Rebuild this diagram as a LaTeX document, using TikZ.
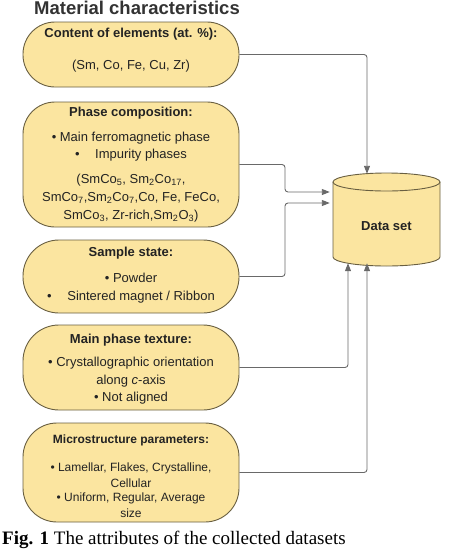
\documentclass[tikz,border=0pt]{standalone}
\usepackage{fontspec}
\setmainfont{Liberation Sans}
\newfontfamily\capfont{Liberation Serif}
\usetikzlibrary{arrows.meta}
\definecolor{boxfill}{RGB}{251,229,160}
\definecolor{boxline}{RGB}{105,95,65}
\definecolor{conn}{RGB}{105,105,105}
\definecolor{txt}{RGB}{35,35,35}
\begin{document}
\begin{tikzpicture}[x=1pt,y=-1pt,
  box/.style={draw=boxline, fill=boxfill, line width=0.9pt, minimum width=216pt, inner sep=0pt},
  hd/.style={font=\bfseries\fontsize{13}{15}\selectfont, text=txt, inner sep=0pt},
  tx/.style={font=\fontsize{13}{15}\selectfont, text=txt, inner sep=0pt},
  hds/.style={font=\bfseries\fontsize{12}{14}\selectfont, text=txt, inner sep=0pt},
  txs/.style={font=\fontsize{12}{14}\selectfont, text=txt, inner sep=0pt},
  arr/.style={draw=conn, line width=0.9pt, rounded corners=3pt, -{Triangle[length=8pt,width=6pt]}}]
\useasboundingbox (0,0) rectangle (452,550);

\node[font=\bfseries\fontsize{18.5}{20}\selectfont, text=black!80, anchor=base, inner sep=0pt] (ttl) at (137,14) {Material characteristics};

% boxes
\node[box, minimum height=65pt, rounded corners=32pt] (b1) at (131,54.5) {};
\node[hd] (b1t) at (131,34) {Content of elements (at. \%):};
\node[tx] (b1a) at (131,66) {(Sm, Co, Fe, Cu, Zr)};

\node[box, minimum height=125pt, rounded corners=32pt] (b2) at (131,164.5) {};
\node[hd] (b2t) at (131,113) {Phase composition:};
\node[tx] (b2a) at (131,138) {\textbullet{} Main ferromagnetic phase};
\node[tx] (b2b) at (131,155) {\textbullet{}\hspace{1.2em}Impurity phases};
\node[tx] (b2c) at (131,180) {(SmCo\textsubscript{5}, Sm\textsubscript{2}Co\textsubscript{17},};
\node[tx] (b2d) at (131,198) {SmCo\textsubscript{7},Sm\textsubscript{2}Co\textsubscript{7},Co, Fe, FeCo,};
\node[tx] (b2e) at (131,216) {SmCo\textsubscript{3}, Zr-rich,Sm\textsubscript{2}O\textsubscript{3})};

\node[box, minimum height=73pt, rounded corners=36pt] (b3) at (131,276.5) {};
\node[hd] (b3t) at (131,253) {Sample state:};
\node[tx] (b3a) at (131,278) {\textbullet{} Powder};
\node[tx] (b3b) at (131,297) {\textbullet{}\hspace{1.2em}Sintered magnet / Ribbon};

\node[box, minimum height=85pt, rounded corners=36pt] (b4) at (131,367.5) {};
\node[hd] (b4t) at (131,340) {Main phase texture:};
\node[tx] (b4a) at (131,363) {\textbullet{} Crystallographic orientation};
\node[tx] (b4b) at (131,381) {along \textit{c}-axis};
\node[tx] (b4c) at (131,398) {\textbullet{} Not aligned};

\node[box, minimum height=99pt, rounded corners=34pt] (b5) at (131,472.5) {};
\node[hds] (b5t) at (131,440) {Microstructure parameters:};
\node[txs] (b5a) at (131,468) {\textbullet{} Lamellar, Flakes, Crystalline,};
\node[txs] (b5b) at (131,483) {Cellular};
\node[txs] (b5c) at (131,498) {\textbullet{} Uniform, Regular, Average};
\node[txs] (b5d) at (131,513) {size};

% data set cylinder
\node[minimum width=107pt, minimum height=93pt, inner sep=0pt] (ds) at (386.5,219.5) {};
\fill[boxfill] (333,182) -- (333,257) arc[start angle=180, end angle=360, x radius=53.5pt, y radius=9pt] -- (440,182) -- cycle;
\fill[boxfill] (386.5,182) ellipse[x radius=53.5pt, y radius=9pt];
\draw[boxline, line width=0.9pt] (333,182) -- (333,257) arc[start angle=180, end angle=360, x radius=53.5pt, y radius=9pt] -- (440,182);
\draw[boxline, line width=0.9pt] (386.5,182) ellipse[x radius=53.5pt, y radius=9pt];
\node[hd] (dst) at (386.5,226) {Data set};

% connectors
\draw[arr] (b1.east) -| ([xshift=-19.5pt,yshift=-1pt]ds.north);
\draw[arr] (b2.east) -| (285,192) -- ([xshift=-3pt]ds.west |- 0,192);
\draw[arr] (b3.east) -| (285,203) -- ([xshift=-3pt]ds.west |- 0,203);
\draw[arr] (b4.east) -| ([xshift=-38.5pt,yshift=3pt]ds.south);
\draw[arr] (b5.east) -| ([xshift=-19.5pt,yshift=3pt]ds.south);

% caption
\node[anchor=base west, inner sep=0pt, font=\capfont\fontsize{19}{21}\selectfont] (cap) at (2,544) {\textbf{Fig. 1} The attributes of the collected datasets};
\end{tikzpicture}
\end{document}
